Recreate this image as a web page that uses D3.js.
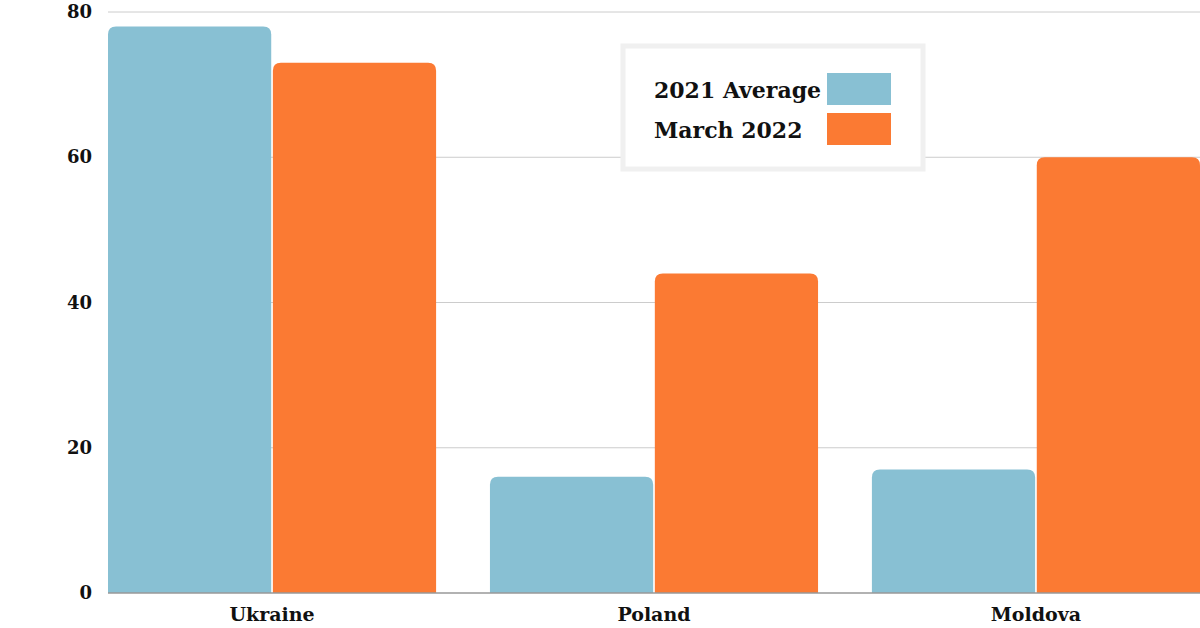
<!DOCTYPE html>
<html>
<head>
<meta charset="utf-8">
<script src="https://cdn.jsdelivr.net/npm/d3@7"></script>
<style>
  body { margin: 0; background: #fff; }
  text { font-family: "DejaVu Serif", "Liberation Serif", serif; font-weight: bold; fill: #111; }
</style>
</head>
<body>
<svg id="chart"></svg>
<script>
// data
const countries = ['Ukraine', 'Poland', 'Moldova'];
const seriesNames = ['2021 Average', 'March 2022'];
const avg2021 = [78, 16, 17];
const march2022 = [73, 44, 60];
const yTicks = [0, 20, 40, 60, 80];

const width = 1200, height = 628;
const colors = ['#88c0d3', '#fb7a33'];

const svg = d3.select('#chart').attr('width', width).attr('height', height);

const y = d3.scaleLinear().domain([0, 80]).range([593, 12]);
const x0 = d3.scaleBand().domain(countries).range([108, 1200]).paddingInner(0.141).paddingOuter(0);
const x1 = d3.scaleBand().domain(seriesNames).range([0, x0.bandwidth()]).paddingInner(0.01);

// grid lines
svg.append('g').selectAll('line')
  .data(yTicks.filter(d => d > 0))
  .enter().append('line')
  .attr('x1', 108).attr('x2', 1200)
  .attr('y1', d => y(d)).attr('y2', d => y(d))
  .attr('stroke', '#cccccc').attr('stroke-width', 1);

// y tick labels
svg.append('g').selectAll('text')
  .data(yTicks)
  .enter().append('text')
  .attr('x', 92).attr('y', d => y(d) + 6)
  .attr('text-anchor', 'end')
  .attr('font-size', 18)
  .text(d => d);

// bars with rounded tops
const roundTop = (x, yTop, w, h, r) => {
  r = Math.min(r, h);
  return `M${x},${yTop + h}V${yTop + r}Q${x},${yTop} ${x + r},${yTop}H${x + w - r}Q${x + w},${yTop} ${x + w},${yTop + r}V${yTop + h}Z`;
};

const rows = countries.map((c, i) => ({ country: c, values: [avg2021[i], march2022[i]] }));

const groups = svg.append('g').selectAll('g')
  .data(rows)
  .enter().append('g')
  .attr('transform', d => `translate(${x0(d.country)},0)`);

groups.selectAll('path')
  .data(d => d.values.map((v, j) => ({ key: seriesNames[j], value: v, j })))
  .enter().append('path')
  .attr('d', d => roundTop(x1(d.key), y(d.value), x1.bandwidth(), y(0) - y(d.value), 8))
  .attr('fill', d => colors[d.j]);

// baseline
svg.append('line')
  .attr('x1', 108).attr('x2', 1200)
  .attr('y1', y(0)).attr('y2', y(0))
  .attr('stroke', '#999').attr('stroke-width', 1.5);

// category labels
svg.append('g').selectAll('text')
  .data(countries)
  .enter().append('text')
  .attr('x', d => x0(d) + x0.bandwidth() / 2)
  .attr('y', 621)
  .attr('text-anchor', 'middle')
  .attr('font-size', 19)
  .text(d => d);

// legend
const legend = svg.append('g');
legend.append('rect')
  .attr('x', 623).attr('y', 46).attr('width', 300).attr('height', 123)
  .attr('fill', '#fff').attr('stroke', '#f0f0f0').attr('stroke-width', 5);
seriesNames.forEach((name, i) => {
  legend.append('text')
    .attr('x', 654).attr('y', 98 + i * 40)
    .attr('font-size', 22)
    .text(name);
  legend.append('rect')
    .attr('x', 827).attr('y', 73 + i * 40).attr('width', 64).attr('height', 32)
    .attr('fill', colors[i]);
});
</script>
</body>
</html>
